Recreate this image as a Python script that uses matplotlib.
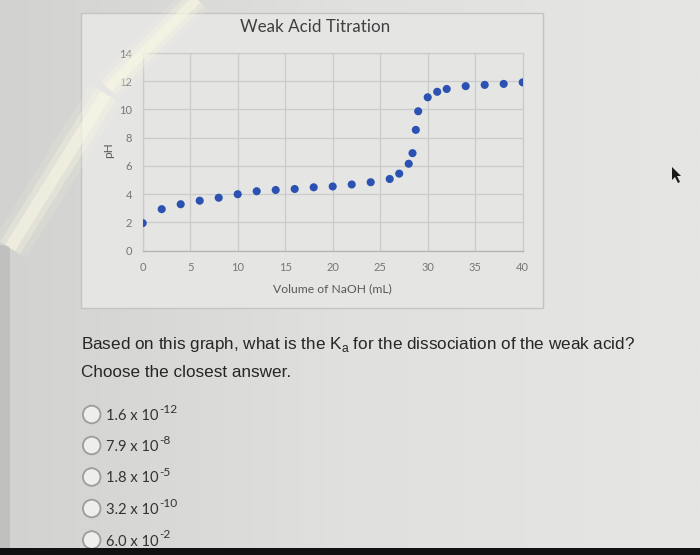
import numpy as np
import matplotlib
matplotlib.use("Agg")
import matplotlib.pyplot as plt
from matplotlib.patches import Rectangle, Circle, Polygon
from matplotlib.colors import LinearSegmentedColormap

# titration data
volume = [0, 2, 4, 6, 8, 10, 12, 14, 16, 18, 20, 22, 24, 26, 27, 28,
          28.4, 28.75, 29, 30, 31, 32, 34, 36, 38, 40]
ph = [1.94, 2.93, 3.28, 3.53, 3.74, 3.99, 4.2, 4.29, 4.36, 4.48, 4.54, 4.68,
      4.84, 5.07, 5.45, 6.15, 6.9, 8.55, 9.87, 10.86, 11.25, 11.45, 11.65,
      11.74, 11.81, 11.92]
xticks = [0, 5, 10, 15, 20, 25, 30, 35, 40]
yticks = [0, 2, 4, 6, 8, 10, 12, 14]

title = "Weak Acid Titration"
xlabel = "Volume of NaOH (mL)"
ylabel = "pH"
question = ["Based on this graph, what is the K$_\\mathregular{a}$ for the dissociation of the weak acid?",
            "Choose the closest answer."]
answer_base = ["1.6 x 10", "7.9 x 10", "1.8 x 10", "3.2 x 10", "6.0 x 10"]
answer_exp = ["-12", "-8", "-5", "-10", "-2"]

W, H = 700, 555
fig = plt.figure(figsize=(W / 100, H / 100), dpi=100)

# background layer in pixel coords
bg = fig.add_axes([0, 0, 1, 1])
bg.set_xlim(0, W)
bg.set_ylim(H, 0)
bg.axis("off")
cmap = LinearSegmentedColormap.from_list("bg", ["#d2d2d0", "#e0e0de", "#e6e6e4"])
grad = np.tile(np.linspace(0, 1, 256), (2, 1))
bg.imshow(grad, cmap=cmap, extent=(0, W, H, 0), aspect="auto", zorder=0)
bg.add_patch(Rectangle((80.7, 13), 462, 295, facecolor="#e5e5e3",
                       edgecolor="#c4c4c2", lw=1, zorder=1))

t_title = bg.text(314.7, 31.7, title, ha="center", va="baseline",
                  family="Lato", fontsize=12, color="#404040", zorder=2)
t_xl = bg.text(332, 288.3, xlabel, ha="center", va="center",
               family="Lato", fontsize=8.5, color="#595959", zorder=2)
bg.text(109, 150, ylabel, ha="center", va="center", rotation=90,
        family="Lato", fontsize=8.5, color="#595959", zorder=2)

q_texts = []
for i, line in enumerate(question):
    q_texts.append(bg.text(80.7, 349.3 + 27.4 * i, line, ha="left", va="baseline",
                           family="Liberation Sans", fontsize=11.5,
                           color="#262626", zorder=2))

radio_y = [414.5, 445.5, 477, 508.5, 540]
a_texts = []
for yy, lab in zip(radio_y, answer_base):
    bg.add_patch(Circle((91.7, yy), 8.8, facecolor="#eeeeec",
                        edgecolor="#9c9c9c", lw=1.3, zorder=2))
    a_texts.append(bg.text(106.5, yy + 5.5, lab, ha="left", va="baseline",
                           family="Lato", fontsize=10.5, color="#333333",
                           zorder=2))

# chart axes
ax = fig.add_axes([142.7 / W, 1 - 250.5 / H, 380 / W, (250.5 - 53) / H])
ax.set_facecolor("none")
ax.scatter(volume, ph, s=34, color="#2b52b2", edgecolors="none", zorder=3)
ax.set_xlim(0, 40)
ax.set_ylim(0, 14)
ax.set_xticks(xticks)
ax.set_yticks(yticks)
ax.grid(True, color="#cbcbc9", lw=0.9)
ax.set_axisbelow(True)
for s in ax.spines.values():
    s.set_color("#cbcbc9")
    s.set_linewidth(0.9)
ax.spines["bottom"].set_color("#b3b3b1")
ax.tick_params(length=0, labelsize=8, labelcolor="#767676")
ax.tick_params(axis="x", pad=8)
ax.tick_params(axis="y", pad=7.5)
for lbl in ax.get_xticklabels() + ax.get_yticklabels():
    lbl.set_family("Lato")

# size texts to the widths measured on the photo
fig.canvas.draw()
r = fig.canvas.get_renderer()

def fit(t, target):
    w = t.get_window_extent(r).width
    t.set_fontsize(t.get_fontsize() * target / w)

fit(t_title, 149)
fit(t_xl, 119)
fit(q_texts[0], 555)
q_texts[1].set_fontsize(q_texts[0].get_fontsize())
fit(a_texts[0], 53)
fs = a_texts[0].get_fontsize()
for t in a_texts[1:]:
    t.set_fontsize(fs)

# exponents as small raised text right after each base
for t, e, yy in zip(a_texts, answer_exp, radio_y):
    ext = t.get_window_extent(r)
    bg.text(ext.x1 + 0.5, yy - 1.5, e, ha="left", va="baseline", family="Lato",
            fontsize=fs * 0.8, color="#333333", zorder=2)

# overlay: screen glare, cursor, bottom bezel
ov = fig.add_axes([0, 0, 1, 1])
ov.set_xlim(0, W)
ov.set_ylim(H, 0)
ov.axis("off")
ov.patch.set_alpha(0)
ov.add_patch(Rectangle((0, 245), 10, 303, facecolor="#c0c0be",
                       edgecolor="none"))
for lw, a in [(22, 0.15), (14, 0.3), (7, 0.5)]:
    ov.plot([198, 108], [-2, 88], color="#faf8e4", lw=lw, alpha=a,
            solid_capstyle="butt")
    ov.plot([106, 10], [94, 248], color="#faf8e4", lw=lw * 1.2, alpha=a,
            solid_capstyle="butt")
ov.add_patch(Polygon([(672, 167), (672, 180), (675, 177), (678, 183), (680, 182),
                      (677, 176), (681, 176)], closed=True,
                     facecolor="#1a1a1a", edgecolor="none"))
ov.add_patch(Rectangle((0, 548), W, 7, facecolor="#111111", edgecolor="none"))

fig.savefig("out.png", dpi=100)
